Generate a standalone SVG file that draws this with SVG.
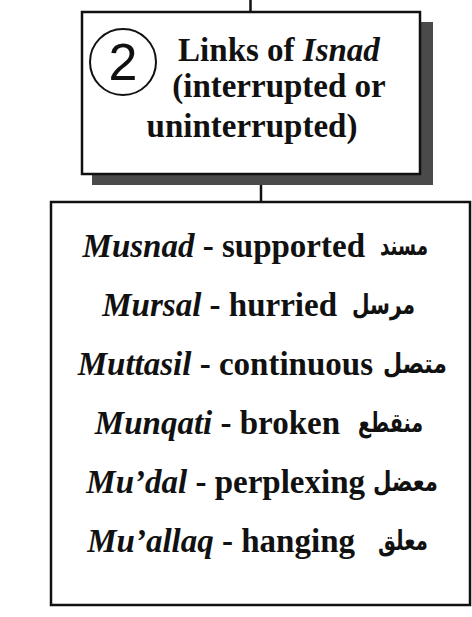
<svg xmlns="http://www.w3.org/2000/svg" width="472" height="617" viewBox="0 0 472 617">
<style>
.box{fill:#fff;stroke:#111;stroke-width:2.5}
.shadow{fill:#4a4a4a}
.conn{stroke:#111;stroke-width:2.5;fill:none}
.t{font-family:"Liberation Serif","Times New Roman",serif;font-weight:bold;font-size:33px;fill:#111}
.i{font-style:italic}
.ar{font-family:"DejaVu Sans",sans-serif;font-weight:bold;font-size:27px;fill:#111}
</style>
<rect width="472" height="617" fill="#fff"/>
<g id="connectors">
<line class="conn" x1="250.5" y1="0" x2="250.5" y2="12"/>
<line class="conn" x1="261" y1="174" x2="261" y2="202"/>
</g>
<g id="node-links">
<rect class="shadow" x="92" y="22" width="341" height="163"/>
<rect class="box" x="82" y="12" width="338" height="162"/>
<circle cx="123" cy="62" r="33" fill="none" stroke="#111" stroke-width="2"/>
<text x="123" y="80" text-anchor="middle" font-family="Liberation Sans, Arial, sans-serif" font-size="52" fill="#111">2</text>
<text class="t" x="279" y="61" text-anchor="middle">Links of <tspan class="i">Isnad</tspan></text>
<text class="t" x="279" y="97" text-anchor="middle">(interrupted or</text>
<text class="t" x="252" y="137" text-anchor="middle">uninterrupted)</text>
</g>
<g id="node-types">
<rect class="box" x="51" y="202" width="419" height="403" stroke-width="2"/>
<text class="t" x="365" y="257" text-anchor="end"><tspan class="i">Musnad</tspan> - supported</text>
<text class="ar" x="380" y="255" textLength="48" lengthAdjust="spacingAndGlyphs">مسند</text>
<text class="t" x="337" y="316" text-anchor="end"><tspan class="i">Mursal</tspan> - hurried</text>
<text class="ar" x="352" y="314" textLength="63" lengthAdjust="spacingAndGlyphs">مرسل</text>
<text class="t" x="373" y="375" text-anchor="end"><tspan class="i">Muttasil</tspan> - continuous</text>
<text class="ar" x="383" y="373" textLength="64" lengthAdjust="spacingAndGlyphs">متصل</text>
<text class="t" x="340" y="434" text-anchor="end"><tspan class="i">Munqati</tspan> - broken</text>
<text class="ar" x="358" y="432" textLength="65" lengthAdjust="spacingAndGlyphs">منقطع</text>
<text class="t" x="365" y="493" text-anchor="end"><tspan class="i">Mu’dal</tspan> - perplexing</text>
<text class="ar" x="373" y="491" textLength="65" lengthAdjust="spacingAndGlyphs">معضل</text>
<text class="t" x="355" y="552" text-anchor="end"><tspan class="i">Mu’allaq</tspan> - hanging</text>
<text class="ar" x="378" y="550" textLength="50" lengthAdjust="spacingAndGlyphs">معلق</text>
</g>
</svg>
